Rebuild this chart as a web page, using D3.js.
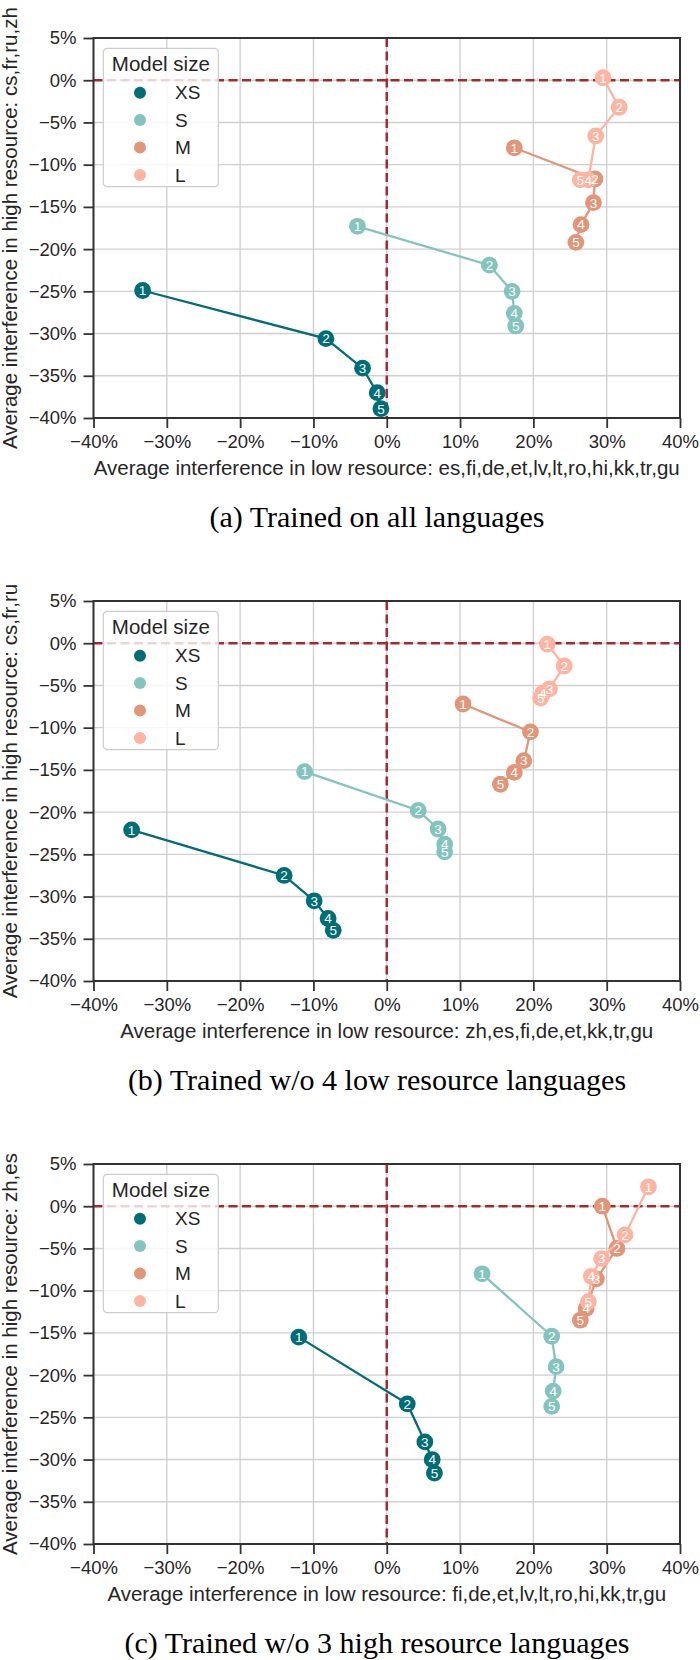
<!doctype html>
<html lang="en">
<head>
<meta charset="utf-8">
<title>Interference by model size</title>
<script src="https://d3js.org/d3.v7.min.js"></script>
<style>
  body { margin: 0; background: #fff; }
  text { font-family: "Liberation Sans", Arial, sans-serif; fill: #262626; }
  .caption { font-family: "Liberation Serif", "Times New Roman", serif; fill: #000; }
</style>
</head>
<body>
<script>
// ---- data (values in %) ----
const sizes = ["XS", "S", "M", "L"];
const xTicks = [-40, -30, -20, -10, 0, 10, 20, 30, 40];
const yTicks = [5, 0, -5, -10, -15, -20, -25, -30, -35, -40];

// panel (a): trained on all languages
const lowA = [
  [-33.3, -8.3, -3.3, -1.3, -0.8],
  [-4.0, 14.0, 17.1, 17.4, 17.6],
  [17.4, 28.4, 28.2, 26.5, 25.8],
  [29.5, 31.7, 28.5, 27.5, 26.4]
];
const highA = [
  [-24.9, -30.6, -34.1, -37.0, -38.9],
  [-17.3, -21.9, -25.0, -27.6, -29.1],
  [-8.0, -11.7, -14.5, -17.1, -19.2],
  [0.3, -3.2, -6.6, -11.8, -11.8]
];

// panel (b): trained w/o 4 low resource languages
const lowB = [
  [-34.8, -14.0, -9.9, -8.0, -7.3],
  [-11.2, 4.3, 7.0, 7.9, 7.9],
  [10.4, 19.6, 18.7, 17.4, 15.5],
  [21.9, 24.2, 22.2, 21.3, 21.0]
];
const highB = [
  [-22.1, -27.5, -30.5, -32.6, -34.0],
  [-15.2, -19.8, -22.0, -23.8, -24.7],
  [-7.2, -10.5, -13.9, -15.3, -16.7],
  [-0.1, -2.7, -5.4, -5.9, -6.5]
];

// panel (c): trained w/o 3 high resource languages
const lowC = [
  [-12.0, 2.8, 5.2, 6.2, 6.5],
  [13.0, 22.5, 23.1, 22.7, 22.5],
  [29.4, 31.4, 28.6, 27.2, 26.4],
  [35.7, 32.5, 29.3, 27.9, 27.5]
];
const highC = [
  [-15.5, -23.4, -27.9, -30.0, -31.6],
  [-8.0, -15.4, -19.0, -21.9, -23.7],
  [0.0, -5.0, -8.6, -12.1, -13.5],
  [2.3, -3.4, -6.2, -8.3, -11.3]
];

const xLabels = [
  "Average interference in low resource: es,fi,de,et,lv,lt,ro,hi,kk,tr,gu",
  "Average interference in low resource: zh,es,fi,de,et,kk,tr,gu",
  "Average interference in low resource: fi,de,et,lv,lt,ro,hi,kk,tr,gu"
];
const yLabels = [
  "Average interference in high resource: cs,fr,ru,zh",
  "Average interference in high resource: cs,fr,ru",
  "Average interference in high resource: zh,es"
];
const captions = [
  "(a) Trained on all languages",
  "(b) Trained w/o 4 low resource languages",
  "(c) Trained w/o 3 high resource languages"
];

const panels = [
  { low: lowA, high: highA },
  { low: lowB, high: highB },
  { low: lowC, high: highC }
];

// ---- layout ----
const colors = ["#006d77", "#83c5be", "#e29578", "#ffb4a2"];
const tops = [38, 601, 1164];
const left = 93.5, right = 680, plotH = 380;

const svg = d3.select("body").append("svg")
  .attr("width", 700)
  .attr("height", 1660);

const fmt = d => (d < 0 ? "\u2212" : "") + Math.abs(d) + "%";

panels.forEach((p, i) => {
  const g = svg.append("g").attr("transform", `translate(0,${tops[i]})`);

  const x = d3.scaleLinear().domain([-40, 40]).range([left, right]);
  const y = d3.scaleLinear().domain([-40, 5]).range([plotH, 0]);

  // grid
  g.append("g").selectAll("line").data(xTicks).join("line")
    .attr("x1", d => x(d)).attr("x2", d => x(d))
    .attr("y1", 0).attr("y2", plotH)
    .attr("stroke", "#d0d0d0").attr("stroke-width", 1.4);
  g.append("g").selectAll("line").data(yTicks).join("line")
    .attr("x1", left).attr("x2", right)
    .attr("y1", d => y(d)).attr("y2", d => y(d))
    .attr("stroke", "#d0d0d0").attr("stroke-width", 1.4);

  // zero lines
  g.append("line")
    .attr("x1", left).attr("x2", right).attr("y1", y(0)).attr("y2", y(0))
    .attr("stroke", "#a52a2a").attr("stroke-width", 2.5).attr("stroke-dasharray", "9,4.5");
  g.append("line")
    .attr("x1", x(0)).attr("x2", x(0)).attr("y1", 0).attr("y2", plotH)
    .attr("stroke", "#a52a2a").attr("stroke-width", 2.5).attr("stroke-dasharray", "9,4.5");

  // series: lines and markers first, numbers on top of everything
  const line = d3.line().x(d => x(d[0])).y(d => y(d[1]));
  const series = sizes.map((s, k) => p.low[k].map((v, j) => [v, p.high[k][j], j + 1]));

  series.forEach((pts, k) => {
    g.append("path").datum(pts)
      .attr("d", line)
      .attr("fill", "none")
      .attr("stroke", colors[k])
      .attr("stroke-width", 2.3);
    g.append("g").selectAll("circle").data(pts).join("circle")
      .attr("cx", d => x(d[0])).attr("cy", d => y(d[1]))
      .attr("r", 8.4)
      .attr("fill", colors[k]);
  });
  series.forEach(pts => {
    g.append("g").selectAll("text").data(pts).join("text")
      .attr("x", d => x(d[0])).attr("y", d => y(d[1]))
      .attr("dy", "0.36em")
      .attr("text-anchor", "middle")
      .style("fill", "#fff")
      .style("font-size", "13.5px")
      .text(d => d[2]);
  });

  // frame
  g.append("rect")
    .attr("x", left).attr("y", 0)
    .attr("width", right - left).attr("height", plotH)
    .attr("fill", "none").attr("stroke", "#333").attr("stroke-width", 2);

  // axes
  const xAxis = g.append("g")
    .attr("transform", `translate(0,${plotH})`)
    .call(d3.axisBottom(x).tickValues(xTicks).tickFormat(fmt).tickSize(10).tickPadding(7).tickSizeOuter(0));
  const yAxis = g.append("g")
    .attr("transform", `translate(${left},0)`)
    .call(d3.axisLeft(y).tickValues(yTicks).tickFormat(fmt).tickSize(10).tickPadding(7).tickSizeOuter(0));
  [xAxis, yAxis].forEach(a => {
    a.select(".domain").remove();
    a.selectAll(".tick line").attr("stroke", "#333").attr("stroke-width", 1.8);
    a.selectAll(".tick text")
      .style("font-family", "'Liberation Sans', Arial, sans-serif")
      .style("font-size", "18.5px")
      .style("fill", "#262626");
  });

  // legend
  const lg = g.append("g").attr("transform", `translate(${left + 9.8},10.3)`);
  lg.append("rect")
    .attr("width", 115).attr("height", 138.4).attr("rx", 4)
    .attr("fill", "#fff").attr("fill-opacity", 0.8)
    .attr("stroke", "#cccccc").attr("stroke-width", 1.2);
  lg.append("text")
    .attr("x", 57.5).attr("y", 22.7)
    .attr("text-anchor", "middle")
    .style("font-size", "20.5px")
    .text("Model size");
  sizes.forEach((s, k) => {
    const cy = 44.4 + k * 27.4;
    lg.append("circle").attr("cx", 36.7).attr("cy", cy).attr("r", 6).attr("fill", colors[k]);
    lg.append("text").attr("x", 71.7).attr("y", cy + 6.8)
      .style("font-size", "19px").text(s);
  });

  // axis titles and caption
  g.append("text")
    .attr("x", (left + right) / 2).attr("y", 437)
    .attr("text-anchor", "middle")
    .style("font-size", "20.5px")
    .text(xLabels[i]);
  g.append("text")
    .attr("transform", `translate(17,${plotH / 2}) rotate(-90)`)
    .attr("text-anchor", "middle")
    .style("font-size", "20.5px")
    .text(yLabels[i]);
  g.append("text")
    .attr("class", "caption")
    .attr("x", 377).attr("y", 489.3)
    .attr("text-anchor", "middle")
    .style("font-size", "30px")
    .text(captions[i]);
});
</script>
</body>
</html>
